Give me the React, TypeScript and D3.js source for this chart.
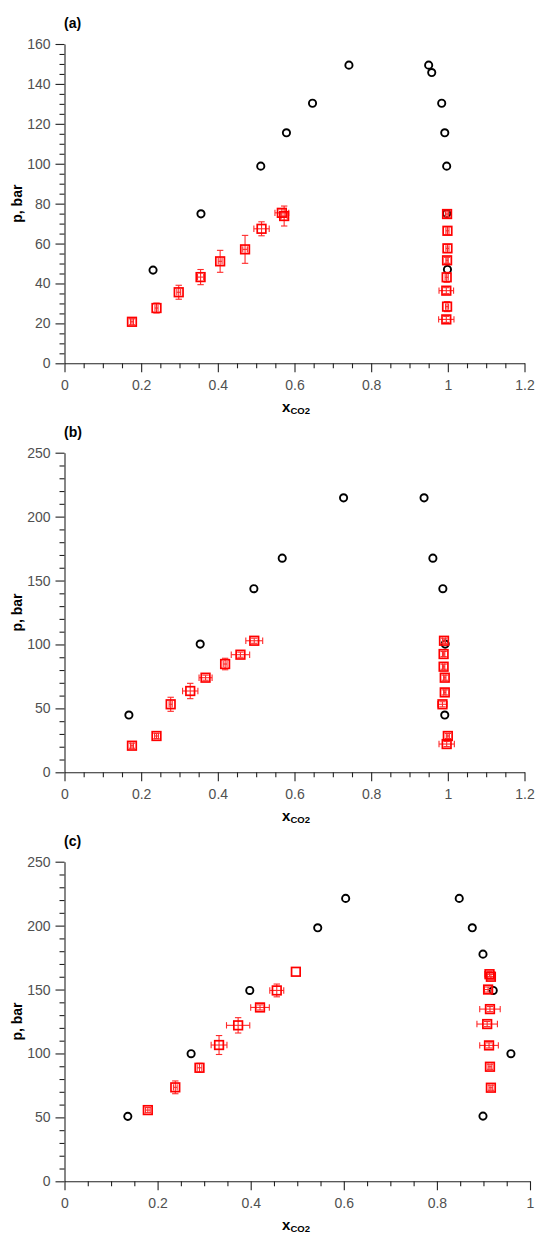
import * as d3 from "d3"
import { useRef, useEffect } from "react"

// ---- panel (a) ----
const aCircX = [0.231, 0.356, 0.512, 0.579, 0.647, 0.742, 0.95, 0.958, 0.984, 0.992, 0.997, 0.997, 0.999]
const aCircP = [46.7, 74.9, 98.8, 115.5, 130.3, 149.4, 149.4, 145.7, 130.3, 115.5, 98.8, 75.1, 47]
const aSqX = [0.176, 0.24, 0.298, 0.355, 0.406, 0.471, 0.514, 0.567, 0.573, 0.998, 0.999, 0.999, 0.998, 0.997, 0.996, 0.998, 0.996]
const aSqP = [20.8, 27.7, 35.6, 43.2, 51.1, 57.1, 67.4, 75.4, 73.8, 74.8, 66.4, 57.6, 51.6, 43.1, 36.4, 28.4, 22]
const aSqXErr = [0.004, 0.004, 0.005, 0.008, 0.005, 0.006, 0.02, 0.018, 0.008, 0.004, 0.004, 0.004, 0.003, 0.004, 0.019, 0.004, 0.02]
const aSqPErr = [1.5, 2.5, 3.5, 3.8, 5.5, 7, 3.5, 2, 5, 1.5, 2, 2, 1.5, 2.5, 1.5, 2.5, 1.5]

// ---- panel (b) ----
const bCircX = [0.168, 0.354, 0.494, 0.568, 0.728, 0.938, 0.961, 0.987, 0.993, 0.992]
const bCircP = [44.8, 100.3, 143.6, 167.5, 214.7, 214.7, 167.5, 143.6, 100.3, 44.8]
const bSqX = [0.176, 0.24, 0.277, 0.328, 0.368, 0.419, 0.459, 0.495, 0.99, 0.989, 0.989, 0.992, 0.992, 0.986, 1.0, 0.997]
const bSqP = [20.8, 28.4, 53.2, 63.6, 74, 84.7, 92, 102.9, 102.9, 92.5, 82.6, 74, 62.5, 53.2, 28.4, 22.1]
const bSqXErr = [0.004, 0.005, 0.004, 0.02, 0.017, 0.005, 0.024, 0.022, 0.004, 0.003, 0.003, 0.003, 0.003, 0.012, 0.004, 0.02]
const bSqPErr = [2, 2, 5.5, 6, 2, 4.5, 2, 2, 2, 2, 2, 2, 2, 2, 2, 2]

// ---- panel (c) ----
const cCircX = [0.136, 0.272, 0.398, 0.544, 0.604, 0.848, 0.876, 0.899, 0.921, 0.959, 0.899]
const cCircP = [50.8, 99.8, 149.3, 198.3, 221.3, 221.3, 198.3, 177.7, 149.3, 99.8, 51]
const cSqX = [0.179, 0.238, 0.29, 0.332, 0.373, 0.42, 0.456, 0.497, 0.913, 0.916, 0.91, 0.914, 0.908, 0.912, 0.914, 0.916]
const cSqP = [55.7, 73.5, 88.8, 106.6, 122, 136, 149.3, 163.9, 162, 160, 150, 134.7, 123, 106.3, 89.6, 73.2]
const cSqXErr = [0.005, 0.004, 0.005, 0.017, 0.025, 0.02, 0.015, 0, 0.01, 0.008, 0.008, 0.022, 0.022, 0.02, 0.004, 0.004]
const cSqPErr = [2, 5, 3.5, 7.4, 6, 2, 5, 0, 2, 2, 2, 2, 2, 2, 2, 2]

// tick labels
const xTicks12 = [0, 0.2, 0.4, 0.6, 0.8, 1, 1.2]
const xTicks10 = [0, 0.2, 0.4, 0.6, 0.8, 1]
const yTicks160 = [0, 20, 40, 60, 80, 100, 120, 140, 160]
const yTicks250 = [0, 50, 100, 150, 200, 250]

const panels = [
  {
    label: "(a)", top: 44, bottom: 363.3, right: 524.5, xMax: 1.2, yMax: 160,
    xTicks: xTicks12, yTicks: yTicks160, yMinorStep: 5,
    circX: aCircX, circP: aCircP, sqX: aSqX, sqP: aSqP, sqXErr: aSqXErr, sqPErr: aSqPErr,
  },
  {
    label: "(b)", top: 452.7, bottom: 772.3, right: 524.5, xMax: 1.2, yMax: 250,
    xTicks: xTicks12, yTicks: yTicks250, yMinorStep: 10,
    circX: bCircX, circP: bCircP, sqX: bSqX, sqP: bSqP, sqXErr: bSqXErr, sqPErr: bSqPErr,
  },
  {
    label: "(c)", top: 861.7, bottom: 1181.3, right: 530, xMax: 1.0, yMax: 250,
    xTicks: xTicks10, yTicks: yTicks250, yMinorStep: 10,
    circX: cCircX, circP: cCircP, sqX: cSqX, sqP: cSqP, sqXErr: cSqXErr, sqPErr: cSqPErr,
  },
]

const width = 550
const height = 1247
const marginLeft = 64.5
const font = "'Liberation Sans', Arial, sans-serif"

export default function App() {
  const svgRef = useRef<SVGSVGElement>(null)

  useEffect(() => {
    const svg = d3.select(svgRef.current)
    svg.selectAll("*").remove()

    panels.forEach((pn) => {
      const x = d3.scaleLinear().domain([0, pn.xMax]).range([marginLeft, pn.right])
      const y = d3.scaleLinear().domain([0, pn.yMax]).range([pn.bottom, pn.top])
      const g = svg.append("g")

      const xMinor = d3.range(0, pn.xMax + 1e-9, 0.05).filter((v) => Math.abs(v * 5 - Math.round(v * 5)) > 1e-6)
      const yMinor = d3.range(0, pn.yMax + 1e-9, pn.yMinorStep).filter((v) => !pn.yTicks.includes(v))

      // minor ticks
      g.append("g")
        .attr("transform", `translate(0,${pn.bottom})`)
        .call(d3.axisBottom(x).tickValues(xMinor).tickSize(5).tickFormat(() => "").tickSizeOuter(0))
        .call((s) => s.select(".domain").remove())
      g.append("g")
        .attr("transform", `translate(${marginLeft},0)`)
        .call(d3.axisLeft(y).tickValues(yMinor).tickSize(5).tickFormat(() => "").tickSizeOuter(0))
        .call((s) => s.select(".domain").remove())

      // major axes
      g.append("g")
        .attr("transform", `translate(0,${pn.bottom})`)
        .call(d3.axisBottom(x).tickValues(pn.xTicks).tickSize(9).tickPadding(8).tickSizeOuter(0).tickFormat((d) => String(d)))
      g.append("g")
        .attr("transform", `translate(${marginLeft},0)`)
        .call(d3.axisLeft(y).tickValues(pn.yTicks).tickSize(9).tickPadding(5).tickSizeOuter(0).tickFormat((d) => String(d)))

      g.selectAll(".domain, .tick line").attr("stroke", "#222").attr("stroke-width", 1.1)
      g.selectAll(".tick text").attr("font-family", font).attr("font-size", 14).attr("fill", "#505050")

      // panel label
      g.append("text")
        .attr("x", 64)
        .attr("y", pn.top - 16)
        .attr("font-family", font)
        .attr("font-size", 14)
        .attr("font-weight", "bold")
        .text(pn.label)

      // y label
      g.append("text")
        .attr("transform", `translate(22,${(pn.top + pn.bottom) / 2}) rotate(-90)`)
        .attr("text-anchor", "middle")
        .attr("font-family", font)
        .attr("font-size", 14)
        .attr("font-weight", "bold")
        .text("p, bar")

      // x label
      const xl = g.append("text")
        .attr("x", 296)
        .attr("y", pn.bottom + 48.5)
        .attr("text-anchor", "middle")
        .attr("font-family", font)
        .attr("font-weight", "bold")
      xl.append("tspan").attr("font-size", 15).text("x")
      xl.append("tspan").attr("font-size", 9.5).attr("dy", 2).text("CO2")

      // black circles
      g.append("g")
        .selectAll("circle")
        .data(pn.circX.map((v, i) => ({ x: v, p: pn.circP[i] })))
        .join("circle")
        .attr("cx", (d) => x(d.x))
        .attr("cy", (d) => y(d.p))
        .attr("r", 3.6)
        .attr("fill", "none")
        .attr("stroke", "#000")
        .attr("stroke-width", 1.9)

      // red squares with error bars
      const sq = pn.sqX.map((v, i) => ({ x: v, p: pn.sqP[i], ex: pn.sqXErr[i], ep: pn.sqPErr[i] }))
      const eb = g.append("g").attr("stroke", "#ff2a2a").attr("stroke-width", 1.1).attr("fill", "none")
      const cap = 3.2
      sq.forEach((d) => {
        const cx = x(d.x)
        const cy = y(d.p)
        if (d.ep > 0) {
          const y0 = y(d.p - d.ep)
          const y1 = y(d.p + d.ep)
          eb.append("line").attr("x1", cx).attr("x2", cx).attr("y1", y0).attr("y2", y1)
          eb.append("line").attr("x1", cx - cap).attr("x2", cx + cap).attr("y1", y0).attr("y2", y0)
          eb.append("line").attr("x1", cx - cap).attr("x2", cx + cap).attr("y1", y1).attr("y2", y1)
        }
        if (d.ex > 0) {
          const x0 = x(d.x - d.ex)
          const x1 = x(d.x + d.ex)
          eb.append("line").attr("x1", x0).attr("x2", x1).attr("y1", cy).attr("y2", cy)
          eb.append("line").attr("x1", x0).attr("x2", x0).attr("y1", cy - cap).attr("y2", cy + cap)
          eb.append("line").attr("x1", x1).attr("x2", x1).attr("y1", cy - cap).attr("y2", cy + cap)
        }
      })
      g.append("g")
        .selectAll("rect")
        .data(sq)
        .join("rect")
        .attr("x", (d) => x(d.x) - 4.3)
        .attr("y", (d) => y(d.p) - 4.3)
        .attr("width", 8.6)
        .attr("height", 8.6)
        .attr("fill", "none")
        .attr("stroke", "#ff0000")
        .attr("stroke-width", 1.7)
    })
  }, [])

  return (
    <svg
      ref={svgRef}
      width={width}
      height={height}
      style={{ position: "absolute", left: 0, top: 0, background: "#fff" }}
    ></svg>
  )
}
